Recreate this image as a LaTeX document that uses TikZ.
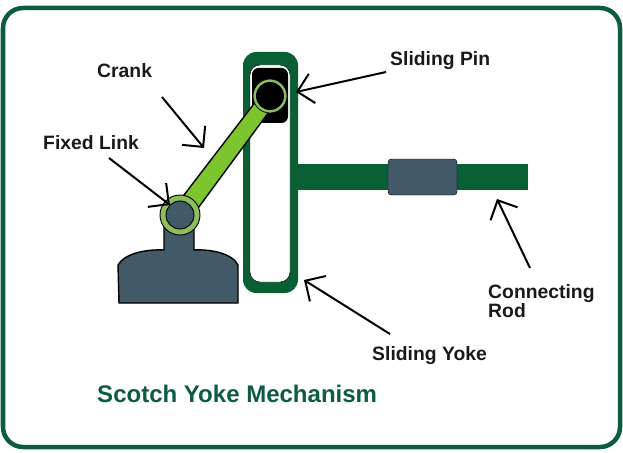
\documentclass[tikz,border=0pt]{standalone}
\usepackage{fontspec}
\setmainfont{Liberation Sans}
\usepackage{tikz}
\usetikzlibrary{arrows.meta}
\definecolor{yokegreen}{HTML}{0B5F34}
\definecolor{framegreen}{HTML}{0D5A45}
\definecolor{slate}{HTML}{425A68}
\definecolor{crankgreen}{HTML}{7CC52E}
\definecolor{ringgreen}{HTML}{8DBE5C}
\tikzstyle{pointer}=[line width=1.7pt, -{Straight Barb[length=4.5mm, width=9mm, line width=1.7pt]}]
\tikzstyle{partlabel}=[font=\fontsize{16.5}{14.7}\selectfont\bfseries, text=black!90, inner sep=0pt, align=left]

\begin{document}
\begin{tikzpicture}[x=0.03cm, y=-0.03cm]
        \useasboundingbox (0,0) rectangle (623,452);
        \draw[framegreen, line width=1.35mm, rounded corners=0.6cm] (3,8) rectangle (620,447);
        % yoke and rod
        \fill[yokegreen] (297,164) rectangle (528,190);
        \fill[yokegreen, rounded corners=0.4cm] (243,52) rectangle (298,293);
        \draw[black, fill=white, rounded corners=0.3cm, line width=0.4pt] (250,65) rectangle (290,282);
        \draw[black, fill=slate, rounded corners=0.1cm] (388,159) rectangle (457,195);
        % sliding block
        \fill[black, rounded corners=0.2cm] (252,68) rectangle (288,123);
        % base
        \draw[black, fill=slate, line width=1.2pt] (119,303) -- (118,265) .. controls (124,254) and (145,249) .. (164,250) -- (164,215) -- (194,215) -- (194,250) .. controls (212,249) and (233,254) .. (238,265) -- (238,303) -- cycle;
        % crank
        \draw[black, fill=crankgreen, line width=1.2pt] (176,205.4) -- (260,95.9) -- (274,105) -- (190,219) -- cycle;
        \draw[black, fill=ringgreen, line width=0.8pt] (180,215) circle (20);
        \draw[black, fill=slate, line width=0.8pt] (180,215) circle (14);
        \draw[black, fill=ringgreen, line width=0.6pt] (270,96) circle (17);
        \fill[black] (270,96) circle (14);
        % labels
        \node[partlabel, anchor=west] (crank) at (97,71) {Crank};
        \node[partlabel, anchor=west] (fixedlink) at (43,143) {Fixed Link};
        \node[partlabel, anchor=west] (slidingpin) at (390,61) {Sliding Pin};
        \node[partlabel, anchor=north west] (connectingrod) at (488,284) {Connecting\\Rod};
        \node[partlabel, anchor=west] (slidingyoke) at (372,356) {Sliding Yoke};
        \node[font=\fontsize{20.5}{24}\selectfont\bfseries, text=framegreen, inner sep=0pt, anchor=west] (title) at (97,394) {Scotch Yoke Mechanism};
        % pointers
        \coordinate (crankstart) at (162,97);
        \coordinate (crankend) at (204,148);
        \coordinate (fixedstart) at (109,158);
        \coordinate (fixedend) at (170,205);
        \coordinate (pinstart) at (386,72);
        \coordinate (pinend) at (296,92);
        \coordinate (rodstart) at (530,268);
        \coordinate (rodend) at (497,199);
        \coordinate (yokestart) at (390,334);
        \coordinate (yokeend) at (304,280);
        \draw[pointer] (crankstart) -- (crankend);
        \draw[pointer] (fixedstart) -- (fixedend);
        \draw[pointer] (pinstart) -- (pinend);
        \draw[pointer] (rodstart) -- (rodend);
        \draw[pointer] (yokestart) -- (yokeend);
    \end{tikzpicture}
\end{document}
